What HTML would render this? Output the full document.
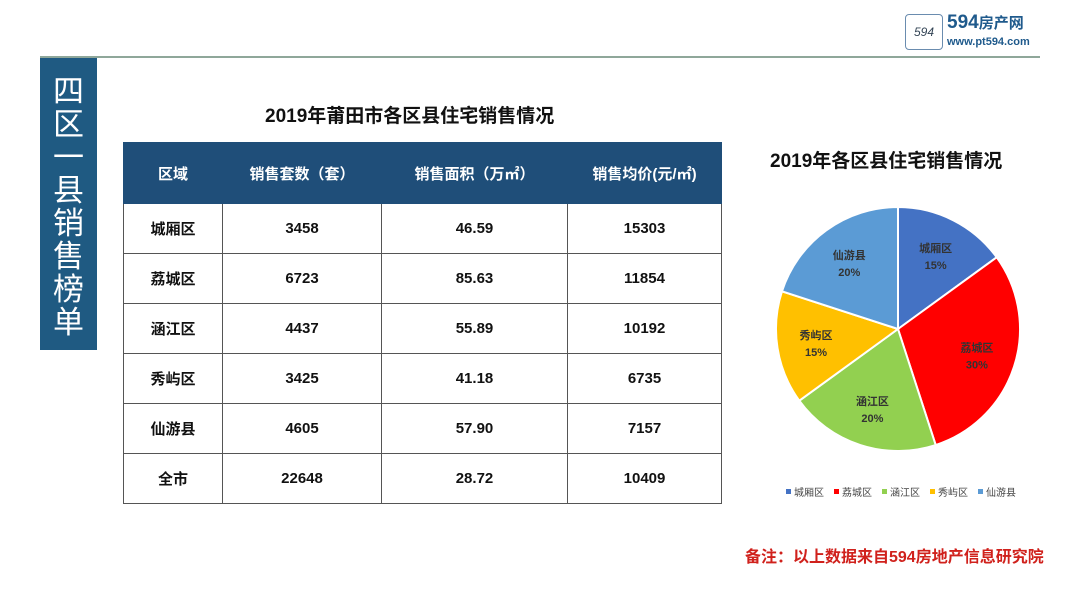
<!DOCTYPE html>
<html><head><meta charset="utf-8"><style>
body{margin:0;width:1080px;height:608px;background:#fff;font-family:"Liberation Sans","Noto Sans CJK SC",sans-serif;position:relative;overflow:hidden}
.abs{position:absolute}
table{border-collapse:collapse;position:absolute;left:123px;top:142px;width:599px}
td,th{border:1px solid #555;text-align:center;font-weight:bold;font-size:15px;color:#111;height:49px;padding:0;vertical-align:middle}
th{background:#1f4e79;color:#fff;height:60px;border-color:#1f4e79}
</style></head><body>
<div class="abs" style="left:40px;top:56px;width:1000px;height:2px;background:#8fa79a"></div>
<div class="abs" style="left:905px;top:12px;width:140px;height:40px">
 <div style="position:absolute;left:0;top:2px;width:36px;height:34px;border:1px solid #6a8caf;border-radius:4px;font-size:12px;color:#345;font-style:italic;line-height:34px;text-align:center">594</div>
 <div style="position:absolute;left:42px;top:0;font-size:19px;font-weight:bold;color:#1f5a8c">594<span style="font-size:15px">房产网</span></div>
 <div style="position:absolute;left:42px;top:24px;font-size:11px;font-weight:bold;color:#1f5a8c">www.pt594.com</div>
</div>
<div class="abs" style="left:40px;top:58px;width:57px;height:292px;background:#1f5a82;color:#fff;font-size:31px;line-height:33px;text-align:center;padding-top:17px;box-sizing:border-box;overflow:hidden">四<br>区<br>一<br>县<br>销<br>售<br>榜<br>单</div>
<div class="abs" style="left:265px;top:101px;font-size:19px;font-weight:bold;color:#111">2019年莆田市各区县住宅销售情况</div>
<table>
<tr><th style="width:98px">区域</th><th style="width:158px">销售套数（套）</th><th style="width:185px">销售面积（万㎡）</th><th>销售均价(元/㎡)</th></tr>
<tr><td>城厢区</td><td>3458</td><td>46.59</td><td>15303</td></tr>
<tr><td>荔城区</td><td>6723</td><td>85.63</td><td>11854</td></tr>
<tr><td>涵江区</td><td>4437</td><td>55.89</td><td>10192</td></tr>
<tr><td>秀屿区</td><td>3425</td><td>41.18</td><td>6735</td></tr>
<tr><td>仙游县</td><td>4605</td><td>57.90</td><td>7157</td></tr>
<tr><td>全市</td><td>22648</td><td>28.72</td><td>10409</td></tr>
</table>
<div class="abs" style="left:770px;top:146px;font-size:19px;font-weight:bold;color:#111">2019年各区县住宅销售情况</div>
<svg class="abs" style="left:0;top:0" width="1080" height="608" id="pie"></svg>
<div class="abs" style="left:745px;top:543px;font-size:16px;font-weight:bold;color:#d0211c">备注：以上数据来自594房地产信息研究院</div>
<script>
const categories=["城厢区","荔城区","涵江区","秀屿区","仙游县"];
const shares=[15,30,20,15,20];
const colors=["#4472c4","#ff0000","#92d050","#ffc000","#5b9bd5"];
const svg=document.getElementById('pie');const NS="http://www.w3.org/2000/svg";
const cx=898,cy=329,r=122;
const total=shares.reduce((a,b)=>a+b,0);
let a0=0;
shares.forEach((v,i)=>{
 const a1=a0+v/total*2*Math.PI;
 const p=(a)=>[cx+r*Math.sin(a),cy-r*Math.cos(a)];
 const [x0,y0]=p(a0),[x1,y1]=p(a1);
 const path=document.createElementNS(NS,'path');
 path.setAttribute('d',`M${cx},${cy}L${x0},${y0}A${r},${r} 0 ${a1-a0>Math.PI?1:0} 1 ${x1},${y1}Z`);
 path.setAttribute('fill',colors[i]);path.setAttribute('stroke','#fff');path.setAttribute('stroke-width','2');
 
 
 svg.appendChild(path);
 const am=(a0+a1)/2,lx=cx+r*0.68*Math.sin(am),ly=cy-r*0.68*Math.cos(am);
 [categories[i],shares[i]+'%'].forEach((t,k)=>{
  const tx=document.createElementNS(NS,'text');
  tx.setAttribute('x',lx);tx.setAttribute('y',ly-3+k*17);tx.setAttribute('text-anchor','middle');
  tx.setAttribute('font-size','11');tx.setAttribute('fill','#333');tx.setAttribute('font-weight','bold');tx.textContent=t;
  
  
  svg.appendChild(tx);
 });
 a0=a1;
});
let lx=786;
categories.forEach((c,i)=>{
 const s=document.createElementNS(NS,'rect');
 s.setAttribute('x',lx);s.setAttribute('y',489);s.setAttribute('width',5);s.setAttribute('height',5);s.setAttribute('fill',colors[i]);
 
 
 svg.appendChild(s);
 const t=document.createElementNS(NS,'text');
 t.setAttribute('x',lx+8);t.setAttribute('y',496);t.setAttribute('font-size','10');t.setAttribute('fill','#444');t.textContent=c;
 
 
 svg.appendChild(t);
 lx+=48;
});
</script>
</body></html>
